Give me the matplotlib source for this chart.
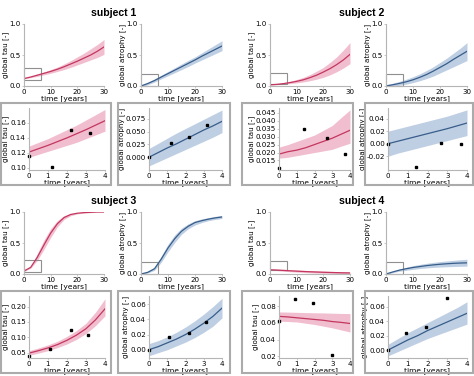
import matplotlib
matplotlib.use("Agg")
import matplotlib.pyplot as plt
from matplotlib.patches import Rectangle

# time grids (years)
T_LONG = [0, 2.5, 5, 7.5, 10, 12.5, 15, 17.5, 20, 22.5, 25, 27.5, 30]
T_SHORT = [0, 0.5, 1, 1.5, 2, 2.5, 3, 3.5, 4]

SUBJECTS = ["subject 1", "subject 2", "subject 3", "subject 4"]

# long term global tau (mean, lower, upper) per subject
TAU_LONG_MID = [
    [0.12, 0.145, 0.175, 0.205, 0.235, 0.27, 0.31, 0.355, 0.40, 0.45, 0.50, 0.56, 0.63],
    [0.019, 0.026, 0.038, 0.055, 0.075, 0.10, 0.135, 0.175, 0.225, 0.28, 0.345, 0.42, 0.51],
    [0.048, 0.107, 0.27, 0.47, 0.66, 0.81, 0.91, 0.96, 0.98, 0.99, 0.995, 1.0, 1.0],
    [0.068, 0.064, 0.058, 0.052, 0.046, 0.041, 0.036, 0.032, 0.028, 0.025, 0.022, 0.019, 0.017],
]
TAU_LONG_LO = [
    [0.115, 0.135, 0.155, 0.18, 0.205, 0.235, 0.265, 0.30, 0.34, 0.38, 0.42, 0.46, 0.51],
    [0.016, 0.021, 0.028, 0.038, 0.05, 0.066, 0.085, 0.11, 0.14, 0.18, 0.23, 0.29, 0.36],
    [0.041, 0.093, 0.22, 0.40, 0.59, 0.76, 0.88, 0.94, 0.97, 0.985, 0.99, 0.995, 0.997],
    [0.063, 0.055, 0.045, 0.037, 0.030, 0.024, 0.019, 0.015, 0.012, 0.010, 0.008, 0.006, 0.005],
]
TAU_LONG_HI = [
    [0.13, 0.155, 0.19, 0.225, 0.265, 0.305, 0.355, 0.41, 0.47, 0.53, 0.60, 0.67, 0.75],
    [0.023, 0.034, 0.052, 0.077, 0.105, 0.14, 0.185, 0.24, 0.30, 0.38, 0.47, 0.58, 0.70],
    [0.056, 0.122, 0.33, 0.55, 0.73, 0.86, 0.94, 0.975, 0.99, 0.995, 1.0, 1.0, 1.0],
    [0.075, 0.072, 0.070, 0.067, 0.063, 0.058, 0.054, 0.050, 0.046, 0.042, 0.039, 0.036, 0.033],
]

# long term global atrophy (mean, lower, upper) per subject
ATR_LONG_MID = [
    [0.0, 0.04, 0.088, 0.145, 0.20, 0.255, 0.31, 0.365, 0.42, 0.48, 0.535, 0.59, 0.645],
    [0.0, 0.02, 0.042, 0.068, 0.10, 0.14, 0.185, 0.24, 0.30, 0.36, 0.43, 0.495, 0.56],
    [0.0, 0.027, 0.085, 0.24, 0.42, 0.57, 0.69, 0.77, 0.83, 0.86, 0.885, 0.905, 0.92],
    [0.0, 0.033, 0.063, 0.085, 0.105, 0.12, 0.135, 0.147, 0.157, 0.165, 0.172, 0.177, 0.18],
]
ATR_LONG_LO = [
    [-0.017, 0.02, 0.063, 0.115, 0.165, 0.215, 0.265, 0.315, 0.37, 0.42, 0.47, 0.52, 0.57],
    [-0.02, -0.005, 0.012, 0.03, 0.055, 0.085, 0.12, 0.16, 0.21, 0.26, 0.31, 0.36, 0.41],
    [-0.008, 0.016, 0.06, 0.19, 0.36, 0.51, 0.64, 0.73, 0.79, 0.83, 0.86, 0.88, 0.895],
    [-0.008, 0.021, 0.045, 0.06, 0.075, 0.088, 0.098, 0.106, 0.112, 0.117, 0.121, 0.124, 0.127],
]
ATR_LONG_HI = [
    [0.017, 0.06, 0.113, 0.175, 0.235, 0.295, 0.355, 0.415, 0.47, 0.535, 0.60, 0.665, 0.73],
    [0.02, 0.045, 0.075, 0.11, 0.15, 0.195, 0.25, 0.31, 0.38, 0.45, 0.53, 0.61, 0.70],
    [0.008, 0.038, 0.11, 0.29, 0.48, 0.63, 0.74, 0.81, 0.86, 0.89, 0.91, 0.93, 0.945],
    [0.008, 0.045, 0.08, 0.11, 0.135, 0.155, 0.172, 0.187, 0.20, 0.211, 0.221, 0.23, 0.238],
]

# first four years (mean, lower, upper) per subject
TAU_SHORT_MID = [
    [0.121, 0.1255, 0.130, 0.135, 0.140, 0.1455, 0.151, 0.157, 0.163],
    [0.019, 0.0205, 0.0215, 0.023, 0.025, 0.027, 0.029, 0.0315, 0.034],
    [0.048, 0.056, 0.065, 0.076, 0.090, 0.107, 0.128, 0.157, 0.193],
    [0.0677, 0.067, 0.066, 0.065, 0.064, 0.063, 0.0615, 0.0605, 0.0592],
]
TAU_SHORT_LO = [
    [0.114, 0.118, 0.122, 0.126, 0.130, 0.134, 0.139, 0.144, 0.149],
    [0.0164, 0.017, 0.018, 0.019, 0.020, 0.021, 0.022, 0.024, 0.0258],
    [0.041, 0.048, 0.056, 0.066, 0.078, 0.093, 0.112, 0.138, 0.170],
    [0.062, 0.0615, 0.061, 0.0595, 0.058, 0.056, 0.054, 0.0515, 0.049],
]
TAU_SHORT_HI = [
    [0.129, 0.134, 0.139, 0.145, 0.151, 0.157, 0.164, 0.171, 0.178],
    [0.0234, 0.025, 0.027, 0.029, 0.031, 0.034, 0.037, 0.042, 0.0468],
    [0.056, 0.065, 0.075, 0.087, 0.103, 0.122, 0.146, 0.182, 0.226],
    [0.073, 0.0728, 0.0725, 0.0722, 0.072, 0.0718, 0.0715, 0.0712, 0.071],
]
ATR_SHORT_MID = [
    [0.0, 0.009, 0.018, 0.026, 0.035, 0.044, 0.053, 0.061, 0.070],
    [0.0, 0.004, 0.008, 0.012, 0.016, 0.020, 0.024, 0.0285, 0.033],
    [0.0, 0.004, 0.009, 0.014, 0.020, 0.027, 0.035, 0.044, 0.055],
    [0.0, 0.007, 0.014, 0.020, 0.027, 0.033, 0.039, 0.045, 0.051],
]
ATR_SHORT_LO = [
    [-0.017, -0.009, -0.001, 0.007, 0.015, 0.023, 0.031, 0.039, 0.048],
    [-0.02, -0.015, -0.011, -0.007, -0.003, 0.001, 0.005, 0.009, 0.013],
    [-0.008, -0.004, 0.0, 0.005, 0.010, 0.016, 0.023, 0.031, 0.042],
    [-0.008, -0.002, 0.004, 0.010, 0.016, 0.021, 0.026, 0.031, 0.036],
]
ATR_SHORT_HI = [
    [0.017, 0.027, 0.037, 0.047, 0.056, 0.065, 0.074, 0.083, 0.092],
    [0.02, 0.024, 0.028, 0.032, 0.036, 0.040, 0.044, 0.049, 0.054],
    [0.008, 0.012, 0.017, 0.023, 0.030, 0.038, 0.047, 0.057, 0.068],
    [0.008, 0.016, 0.024, 0.031, 0.038, 0.045, 0.052, 0.059, 0.067],
]

# observed scans
OBS_T = [
    [0, 1.2, 2.2, 3.2],
    [0, 1.4, 2.7, 3.7],
    [0, 1.1, 2.2, 3.1],
    [0, 0.9, 1.9, 3.0],
]
OBS_TAU = [
    [0.116, 0.101, 0.151, 0.147],
    [0.0105, 0.035, 0.029, 0.019],
    [0.037, 0.060, 0.123, 0.106],
    [0.062, 0.089, 0.084, 0.021],
]
OBS_ATR = [
    [0.0, 0.027, 0.040, 0.062],
    [0.0, -0.037, 0.001, 0.0],
    [0.0, 0.017, 0.022, 0.036],
    [0.0, 0.023, 0.032, 0.072],
]

# zoom windows drawn on the long term plots: (y bottom, y top)
TAU_BOX = [(0.09, 0.285), (0.03, 0.215), (0.03, 0.225), (0.07, 0.215)]
ATR_BOX = [(0.0, 0.19), (0.0, 0.19), (0.0, 0.19), (0.0, 0.19)]
BOX_T = 6.3

# y ranges / ticks of the zoomed panels
TAU_YLIM = [(0.097, 0.180), (0.009, 0.048), (0.032, 0.235), (0.018, 0.092)]
ATR_YLIM = [(-0.025, 0.096), (-0.042, 0.057), (-0.011, 0.071), (-0.011, 0.075)]
TAU_YTICKS = [
    [0.10, 0.12, 0.14, 0.16],
    [0.015, 0.020, 0.025, 0.030, 0.035, 0.040, 0.045],
    [0.05, 0.10, 0.15, 0.20],
    [0.02, 0.04, 0.06, 0.08],
]
ATR_YTICKS = [
    [0.0, 0.025, 0.050, 0.075],
    [-0.02, 0.0, 0.02, 0.04],
    [0.0, 0.02, 0.04, 0.06],
    [0.0, 0.02, 0.04, 0.06],
]
TAU_FMT = ["%.2f", "%.3f", "%.2f", "%.2f"]
ATR_FMT = ["%.3f", "%.2f", "%.2f", "%.2f"]

TAU_LINE, TAU_BAND = "#c4365f", "#eda9c0"
ATR_LINE, ATR_BAND = "#385d8a", "#a9bfda"
SPINE = "#b5b5b5"
FRAME = "#ababab"
FS = 5.1

W, H = 474, 376
fig = plt.figure(figsize=(W / 100, H / 100), dpi=100)


def px_axes(x0, y0, x1, y1):
    return fig.add_axes([x0 / W, 1 - y1 / H, (x1 - x0) / W, (y1 - y0) / H])


def style(ax, ylabel):
    for s in ["top", "right"]:
        ax.spines[s].set_visible(False)
    for s in ["left", "bottom"]:
        ax.spines[s].set_color(SPINE)
        ax.spines[s].set_linewidth(0.8)
    ax.tick_params(length=1.5, width=0.5, color=SPINE, labelsize=FS, pad=0.8)
    ax.set_xlabel("time [years]", fontsize=FS + 0.3, labelpad=0.3)
    ax.set_ylabel(ylabel, fontsize=FS, labelpad=0.6)


def long_plot(ax, mid, lo, hi, line, band, box, ylabel):
    ax.fill_between(T_LONG, lo, hi, color=band, alpha=0.75, lw=0)
    ax.plot(T_LONG, mid, color=line, lw=0.9)
    ax.add_patch(Rectangle((0, box[0]), BOX_T, box[1] - box[0], fill=False,
                           ec="#8f8f8f", lw=0.8, clip_on=False))
    ax.set_xlim(0, 30)
    ax.set_ylim(0, 1)
    ax.set_xticks([0, 10, 20, 30])
    ax.set_yticks([0, 0.5, 1.0])
    ax.set_yticklabels(["0.0", "0.5", "1.0"])
    style(ax, ylabel)


def short_plot(ax, mid, lo, hi, t_obs, y_obs, line, band, ylim, yticks, fmt, ylabel):
    ax.fill_between(T_SHORT, lo, hi, color=band, alpha=0.75, lw=0)
    ax.plot(T_SHORT, mid, color=line, lw=0.9)
    ax.plot(t_obs, y_obs, "s", color="black", ms=2, clip_on=False)
    ax.set_xlim(0, 4)
    ax.set_ylim(*ylim)
    ax.set_xticks([0, 1, 2, 3, 4])
    ax.set_yticks(yticks)
    ax.set_yticklabels([fmt % v for v in yticks])
    style(ax, ylabel)


def frame(x0, y0, x1, y1):
    fig.patches.append(Rectangle((x0 / W, 1 - y1 / H), (x1 - x0) / W, (y1 - y0) / H,
                                 transform=fig.transFigure, fill=False,
                                 ec=FRAME, lw=1.5))


# pixel layout of one subject block, for left and right column
LAYOUT = {
    0: dict(title=114, tl=(24, 104), tr=(141, 222), bl=(29, 105), br=(149, 222),
            fl=(1, 111), fr=(118, 230)),
    1: dict(title=362, tl=(270, 350), tr=(386, 467), bl=(279, 350), br=(388, 467),
            fl=(242, 353), fr=(365, 473)),
}

for i, name in enumerate(SUBJECTS):
    L = LAYOUT[i % 2]
    oy = 0 if i < 2 else 188

    fig.text(L["title"] / W, 1 - (oy + 13) / H, name, ha="center", va="center",
             fontsize=7.6, fontweight="bold", family="Liberation Sans")

    frame(L["fl"][0], oy + 103, L["fl"][1], oy + 185)
    frame(L["fr"][0], oy + 103, L["fr"][1], oy + 185)

    ax = px_axes(L["tl"][0], oy + 24, L["tl"][1], oy + 86)
    long_plot(ax, TAU_LONG_MID[i], TAU_LONG_LO[i], TAU_LONG_HI[i],
              TAU_LINE, TAU_BAND, TAU_BOX[i], "global tau [-]")
    ax = px_axes(L["tr"][0], oy + 24, L["tr"][1], oy + 86)
    long_plot(ax, ATR_LONG_MID[i], ATR_LONG_LO[i], ATR_LONG_HI[i],
              ATR_LINE, ATR_BAND, ATR_BOX[i], "global atrophy [-]")

    ax = px_axes(L["bl"][0], oy + 108, L["bl"][1], oy + 170)
    short_plot(ax, TAU_SHORT_MID[i], TAU_SHORT_LO[i], TAU_SHORT_HI[i],
               OBS_T[i], OBS_TAU[i], TAU_LINE, TAU_BAND,
               TAU_YLIM[i], TAU_YTICKS[i], TAU_FMT[i], "global tau [-]")
    ax = px_axes(L["br"][0], oy + 108, L["br"][1], oy + 170)
    short_plot(ax, ATR_SHORT_MID[i], ATR_SHORT_LO[i], ATR_SHORT_HI[i],
               OBS_T[i], OBS_ATR[i], ATR_LINE, ATR_BAND,
               ATR_YLIM[i], ATR_YTICKS[i], ATR_FMT[i], "global atrophy [-]")

fig.savefig("out.png", dpi=100)
